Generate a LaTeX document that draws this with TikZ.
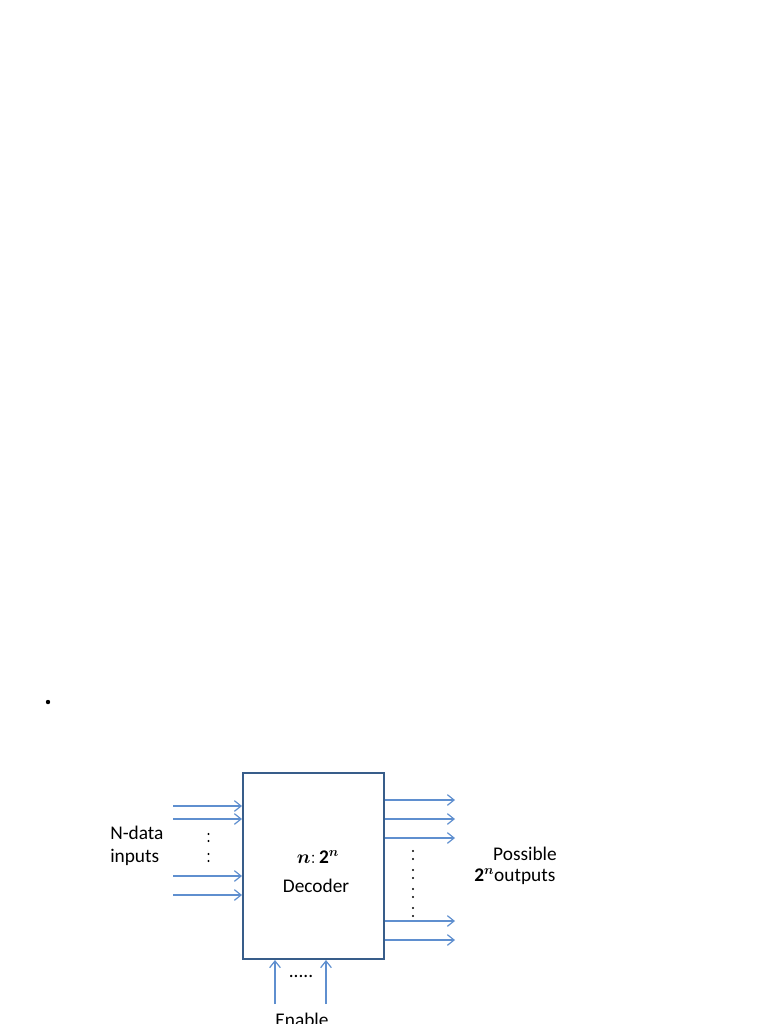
\documentclass[tikz,border=0pt]{standalone}
\usepackage{fontspec}
\usepackage{amsmath}
\usepackage{bm}
\setmainfont{Carlito}
\usetikzlibrary{arrows.meta}
\definecolor{boxline}{HTML}{385D8A}
\definecolor{sigline}{HTML}{5F8FCF}
\tikzset{
  sig/.style={draw=sigline, line width=0.9pt, -{Straight Barb[length=5pt,width=8pt]}},
  lbl/.style={font=\fontsize{14.5}{17}\selectfont, inner sep=0pt},
}
\begin{document}
\begin{tikzpicture}[x=0.75pt,y=0.75pt]
	\useasboundingbox (0,0) rectangle (768,-1024);
	\fill [white] (0,0) rectangle (768,-1024);
	\tikzstyle{every node}+=[inner sep=0pt]
	% bullet
	\fill [black] (48,-702) circle (2.2);
	% decoder block
	\node [draw=boxline, line width=1.5pt, minimum width=141*0.75pt, minimum height=186*0.75pt] (dec) at (313.5,-866) {};
	\node [lbl] (ratio) at (318,-857) {$\bm{n}{:}\,\mathbf{2}^{\bm{n}}$};
	\node [lbl] (name) at (316,-886) {Decoder};
	% data inputs
	\foreach \y [count=\i] in {806,819,876,895} {
		\coordinate (in\i) at (173,-\y);
		\draw [sig] (in\i) -- (in\i -| dec.west);
	}
	\node [lbl, align=left, anchor=west] (inlbl) at (110,-846) {N-data\\inputs};
	\foreach \y in {834,841,854,861}
		\fill [black] (208.5,-\y) circle (1.1);
	% outputs
	\foreach \y [count=\i] in {800,819,838,921,940} {
		\coordinate (out\i) at (455,-\y);
		\draw [sig] (out\i -| dec.east) -- (out\i);
	}
	\foreach \y in {851,859,870,878,889,897,908,916}
		\fill [black] (413,-\y) circle (1.1);
	\node [lbl] (outlbl1) at (525,-854) {Possible};
	\node [lbl, anchor=west] (outlbl2) at (474,-877) {$\mathbf{2}^{\bm{n}}$outputs};
	% enable
	\foreach \x [count=\i] in {275,326} {
		\coordinate (en\i) at (\x,-1004);
		\draw [sig] (en\i) -- (en\i |- dec.south);
	}
	\node [lbl] (endots) at (301,-976) {.....};
	\node [lbl] (enlbl) at (302,-1020) {Enable};
\end{tikzpicture}
\end{document}
